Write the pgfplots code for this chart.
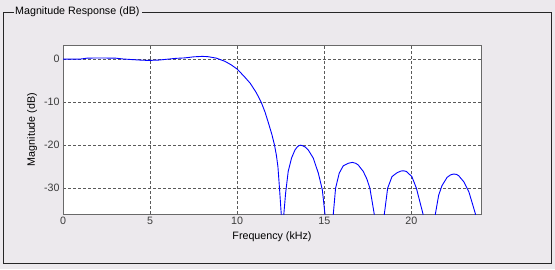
\documentclass[border=0pt]{standalone}
\usepackage{pgfplots}
\pgfplotsset{compat=1.18}
\usepackage{fontspec}
\setmainfont{Liberation Sans}
\definecolor{panelbg}{RGB}{236,233,237}
\definecolor{axgray}{RGB}{105,105,105}
\definecolor{gridgray}{RGB}{90,90,90}
\definecolor{txtgray}{RGB}{60,60,60}
\begin{document}
\begin{tikzpicture}[x=1bp,y=1bp]
\fill[panelbg] (0,0) rectangle (555,269);
\draw[black!85, line width=1bp] (14,256.3) -- (3.5,256.3) -- (3.5,5.7) -- (551.5,5.7) -- (551.5,256.3) -- (142,256.3);
\node[anchor=base west, inner sep=0] at (15,254.5) {\fontsize{10.7bp}{12bp}\selectfont Magnitude Response (dB)};
\begin{axis}[
  at={(63bp,55bp)}, anchor=south west,
  scale only axis, width=418bp, height=169bp,
  xmin=0, xmax=24, ymin=-36, ymax=3.3,
  xtick={0,5,10,15,20}, ytick={-30,-20,-10,0},
  grid=major,
  grid style={gridgray, dash pattern=on 3bp off 2bp, line width=0.6bp},
  axis line style={axgray, line width=0.8bp},
  major tick length=0pt,
  axis background/.style={fill=white},
  /pgf/number format/assume math mode=true,
  ticklabel style={font=\fontsize{10.7bp}{12bp}\selectfont, text=txtgray},
  label style={font=\fontsize{10.7bp}{12bp}\selectfont, text=black},
  xlabel={Frequency (kHz)},
  ylabel={Magnitude (dB)},
  clip=true,
]
\addplot[blue, line width=0.9bp] coordinates {
(0,0) (0.5,0.0) (1.0,0.03) (1.4,0.25) (2.0,0.28) (3.0,0.25) (3.45,0.05) (4.0,-0.1)
(4.6,-0.25) (5.0,-0.28) (5.5,-0.2) (6.0,0.0) (6.5,0.2) (7.0,0.3) (7.5,0.55) (8.0,0.65)
(8.3,0.6) (8.8,0.25) (9.3,-0.5) (9.65,-1.3) (10.0,-2.3) (10.4,-4.0) (10.75,-5.6) (11.1,-7.8)
(11.38,-10) (11.6,-12.3) (11.8,-14.9) (12.0,-17.6) (12.15,-20.1) (12.25,-22.3) (12.34,-25)
(12.43,-30) (12.48,-33) (12.53,-36) (12.6,-60)
(12.68,-36) (12.78,-31.2) (12.93,-26.1) (13.12,-23.0) (13.32,-21.1) (13.45,-20.4) (13.55,-20.1)
(13.65,-20.0) (13.74,-20.1) (13.9,-20.4) (14.08,-21.1) (14.37,-23.0) (14.66,-26.5) (14.89,-30.4)
(15.04,-36) (15.28,-60)
(15.52,-36) (15.65,-30) (15.86,-26.5) (16.09,-24.8) (16.38,-24.2) (16.61,-24.0) (16.8,-24.2)
(16.95,-24.6) (17.24,-26.1) (17.45,-27.9) (17.62,-30) (17.87,-36) (18.16,-60)
(18.45,-36) (18.64,-30) (18.89,-27.3) (19.18,-26.4) (19.41,-26.0) (19.55,-25.95) (19.71,-26.1)
(20.03,-27.3) (20.29,-30) (20.67,-36) (21.0,-60)
(21.38,-36) (21.57,-31.6) (21.76,-29.4) (22.05,-27.5) (22.25,-26.9) (22.43,-26.7) (22.6,-26.8)
(22.72,-27.1) (23.01,-28.5) (23.30,-30.8) (23.58,-34.6) (23.68,-36) (23.8,-60)
};
\end{axis}
\end{tikzpicture}
\end{document}
